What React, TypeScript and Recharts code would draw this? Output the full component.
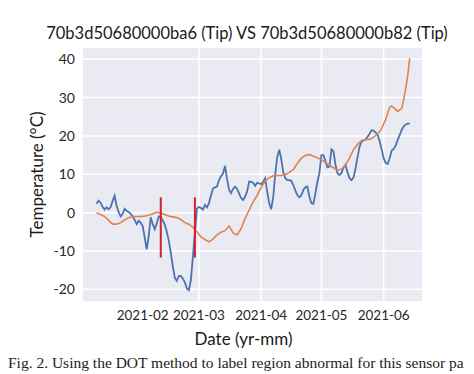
import React from 'react';
import { LineChart, Line, XAxis, YAxis, CartesianGrid, ReferenceLine } from 'recharts';

const titleText = '70b3d50680000ba6 (Tip) VS 70b3d50680000b82 (Tip)';
const yLabel = 'Temperature (°C)';
const xLabel = 'Date (yr-mm)';
const caption = 'Fig. 2. Using the DOT method to label region abnormal for this sensor pa';

const monthTicks = ['2021-02', '2021-03', '2021-04', '2021-05', '2021-06'];
const tempTicks = [-20, -10, 0, 10, 20, 30, 40];

// Sensor 70b3d50680000ba6 (blue): daily readings from blueStart
const blueStart = '2021-01-09';
const blueTemps = [
  2.3, 3.1, 2.6, 1.5, 0.8, 1.4, 0.9, 1.4, 3.0, 4.4,
  1.8, 0.2, -1.0, -0.3, 1.0, 0.5, 0.2, -0.3, -1.0, -1.9,
  -3.0, -2.1, -2.6, -3.5, -6.5, -9.6, -6.1, -1.2, -3.0, -4.3,
  -2.8, -1.0, -1.2, -2.0, -3.2, -5.0, -7.3, -10.5, -14.0, -17.0,
  -17.8, -16.5, -16.5, -17.2, -18.2, -19.8, -20.2, -17.5, -11.5, -5.0,
  1.0, 1.5, 1.2, 0.8, 2.0, 1.4, 2.5, 4.5, 6.3, 6.6,
  6.8, 8.5, 9.5, 10.2, 12.2, 8.8, 6.0, 5.1, 6.2, 6.8,
  6.2, 5.0, 3.8, 3.3, 4.2, 5.5, 8.1, 8.0, 7.8, 7.0,
  7.8, 7.6, 7.4, 8.1, 9.0, 5.5, 2.5, 0.9, 4.0, 10.0,
  14.5, 16.4, 14.0, 10.5, 9.0, 8.5, 8.5, 8.3, 7.2, 5.8,
  4.6, 4.0, 4.5, 5.9, 6.6, 6.8, 4.2, 2.5, 2.3, 5.0,
  8.0, 10.3, 15.0, 15.0, 13.5, 11.8, 12.0, 16.5, 16.0, 12.5,
  10.3, 9.8, 10.3, 11.8, 12.5, 10.5, 9.0, 8.5, 9.2, 11.5,
  14.5, 17.2, 18.5, 18.8, 19.1, 19.8, 20.6, 21.5, 21.4, 20.9,
  20.3, 18.6, 16.5, 14.2, 13.0, 12.7, 14.2, 16.2, 16.6, 17.5,
  19.0, 20.3, 21.6, 22.5, 23.0, 23.2, 23.2,
];

// Sensor 70b3d50680000b82 (orange)
const orangeDates = [
  '2021-01-09', '2021-01-11', '2021-01-13', '2021-01-15', '2021-01-17', '2021-01-19',
  '2021-01-21', '2021-01-23', '2021-01-25', '2021-01-27', '2021-01-29', '2021-01-31',
  '2021-02-02', '2021-02-04', '2021-02-06', '2021-02-08', '2021-02-10', '2021-02-12',
  '2021-02-14', '2021-02-16', '2021-02-18', '2021-02-20', '2021-02-22', '2021-02-24',
  '2021-02-26', '2021-02-28', '2021-03-02', '2021-03-04', '2021-03-06', '2021-03-08',
  '2021-03-10', '2021-03-12', '2021-03-14', '2021-03-16', '2021-03-17', '2021-03-18',
  '2021-03-20', '2021-03-22', '2021-03-24', '2021-03-26', '2021-03-28', '2021-03-30',
  '2021-04-01', '2021-04-03', '2021-04-05', '2021-04-07', '2021-04-09', '2021-04-11',
  '2021-04-13', '2021-04-15', '2021-04-17', '2021-04-19', '2021-04-21', '2021-04-23',
  '2021-04-25', '2021-04-27', '2021-04-29', '2021-05-01', '2021-05-03', '2021-05-05',
  '2021-05-07', '2021-05-09', '2021-05-11', '2021-05-13', '2021-05-15', '2021-05-17',
  '2021-05-19', '2021-05-21', '2021-05-23', '2021-05-25', '2021-05-27', '2021-05-29',
  '2021-05-31', '2021-06-02', '2021-06-04', '2021-06-05', '2021-06-06', '2021-06-08',
  '2021-06-10', '2021-06-11', '2021-06-12', '2021-06-13', '2021-06-14',
];
const orangeTemps = [
  0.0, -0.5, -1.0, -2.0, -3.0, -3.0,
  -2.6, -1.9, -1.3, -1.0, -1.0, -1.0,
  -0.9, -0.7, -0.3, 0.1, -0.1, -0.5,
  -0.9, -1.1, -1.3, -1.8, -2.6, -3.0,
  -3.8, -5.0, -6.3, -7.0, -7.6, -6.9,
  -5.8, -5.1, -4.7, -3.5, -4.3, -5.3,
  -5.8, -4.2, -1.5, 0.7, 2.8, 4.5,
  6.6, 8.2, 9.1, 9.6, 9.7, 9.7,
  9.9, 10.5, 11.2, 12.8, 14.2, 14.9,
  15.2, 14.7, 14.3, 13.8, 13.1, 12.3,
  11.7, 11.1, 11.3, 12.4, 14.3, 16.4,
  17.8, 18.8, 19.0, 19.1, 19.7, 20.5,
  21.9, 24.3, 27.5, 27.8, 27.4, 26.4,
  27.2, 29.4, 32.5, 35.8, 40.3,
];

// DOT-labelled abnormal region boundaries
const abnormalDates = ['2021-02-10', '2021-02-27'];
const abnormalTop = 4;
const abnormalBottom = -11.7;

const ORIGIN = Date.UTC(2021, 0, 1);
const dayOf = (s: string) => {
  const full = s.length === 7 ? s + '-01' : s;
  const [y, m, d] = full.split('-').map(Number);
  return (Date.UTC(y, m - 1, d) - ORIGIN) / 86400000;
};
const labelOfDay = (d: number) => {
  const dt = new Date(ORIGIN + d * 86400000);
  return `${dt.getUTCFullYear()}-${String(dt.getUTCMonth() + 1).padStart(2, '0')}`;
};

const blueData = blueTemps.map((v, i) => ({ d: dayOf(blueStart) + i, v }));
const orangeData = orangeDates.map((s, i) => ({ d: dayOf(s), v: orangeTemps[i] }));
const xTicks = monthTicks.map(dayOf);

const FONT = 'Lato, "Open Sans", sans-serif';

export default function App() {
  return (
    <div style={{ position: 'absolute', left: 0, top: 0, width: 474, height: 374, background: '#fff', overflow: 'hidden' }}>
      <svg width={474} height={374} style={{ position: 'absolute', left: 0, top: 0 }}>
        <text x={247} y={39} textAnchor="middle" fontFamily={FONT} fontSize={16.5} fill="#1a1a1a">{titleText}</text>
        <text x={8} y={368} fontFamily='"Liberation Serif", "Times New Roman", serif' fontSize={15.5} fill="#222">{caption}</text>
      </svg>
      <div style={{ position: 'absolute', left: 0, top: 0 }}>
        <LineChart width={474} height={374} margin={{ top: 47, right: 51, bottom: 0, left: 0 }}>
          <CartesianGrid fill="#EAEAF2" stroke="#FFFFFF" strokeWidth={1.5} />
          <XAxis
            type="number"
            dataKey="d"
            domain={[0.77, 170.6]}
            ticks={xTicks}
            tickFormatter={labelOfDay}
            allowDataOverflow
            axisLine={false}
            tickLine={false}
            tickSize={0}
            tickMargin={8}
            height={72}
            tick={{ fill: '#262626', fontSize: 13.5, fontFamily: FONT }}
            label={{ value: xLabel, position: 'insideBottom', offset: 29, dx: -9, style: { fill: '#1a1a1a', fontSize: 17, fontFamily: FONT } }}
          />
          <YAxis
            type="number"
            domain={[-23.3, 43.2]}
            ticks={tempTicks}
            allowDataOverflow
            axisLine={false}
            tickLine={false}
            tickSize={0}
            tickMargin={7}
            width={82}
            tick={{ fill: '#262626', fontSize: 14, fontFamily: FONT }}
            label={{ value: yLabel, angle: -90, position: 'insideLeft', offset: 37, style: { textAnchor: 'middle', fill: '#1a1a1a', fontSize: 17, fontFamily: FONT } }}
          />
          <Line data={blueData} dataKey="v" type="linear" stroke="#4C72B0" strokeWidth={1.8} dot={false} isAnimationActive={false} />
          <Line data={orangeData} dataKey="v" type="linear" stroke="#DD8452" strokeWidth={1.6} dot={false} isAnimationActive={false} />
          {abnormalDates.map((s) => (
            <ReferenceLine
              key={s}
              segment={[{ x: dayOf(s), y: abnormalTop }, { x: dayOf(s), y: abnormalBottom }]}
              stroke="#D3202E"
              strokeWidth={2}
            />
          ))}
        </LineChart>
      </div>
    </div>
  );
}
